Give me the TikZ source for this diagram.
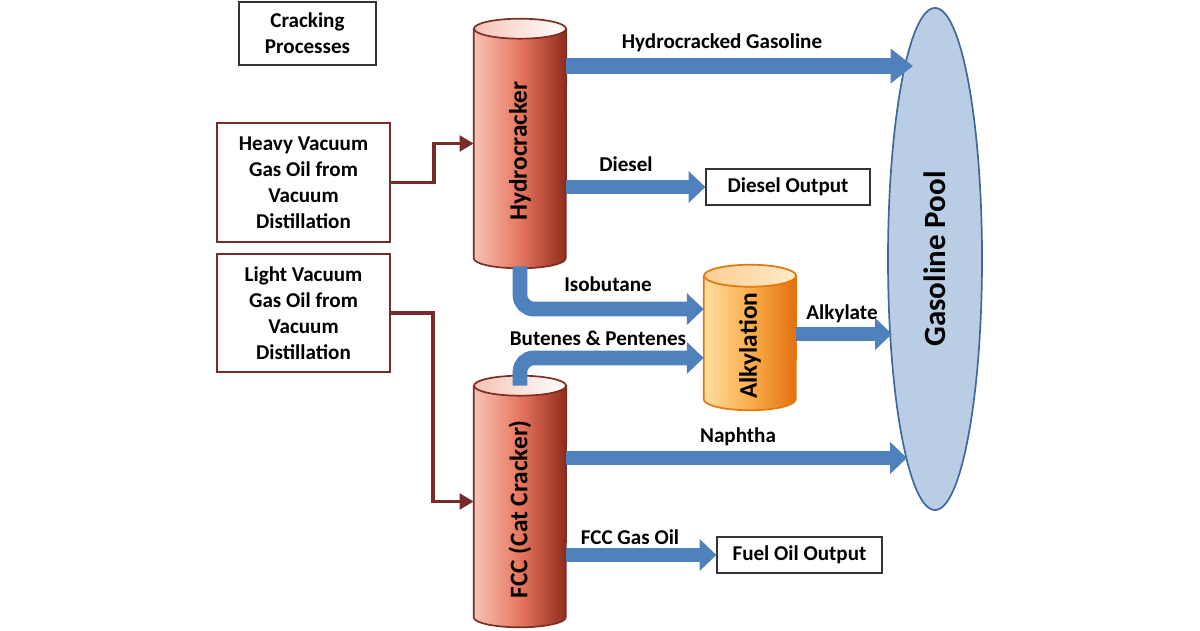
\documentclass[tikz,border=0pt]{standalone}
\usepackage{fontspec}
\setmainfont{Carlito}
\usepackage{tikz}
\usetikzlibrary{arrows.meta,shapes.geometric,backgrounds}

\definecolor{flowblue}{HTML}{4F81BD}
\definecolor{feedbrown}{HTML}{772C2A}
\definecolor{towerL}{HTML}{F5C3B6}
\definecolor{towerM}{HTML}{E8765E}
\definecolor{towerR}{HTML}{8F2B1D}
\definecolor{towerEdge}{HTML}{7A2E24}
\definecolor{alkyL}{HTML}{FFDDA0}
\definecolor{alkyM}{HTML}{FBAE4C}
\definecolor{alkyR}{HTML}{E2700D}
\definecolor{alkyEdge}{HTML}{E5760F}
\definecolor{poolfill}{HTML}{B9CDE5}
\definecolor{pooledge}{HTML}{41689A}

\tikzset{
  txt/.style={font=\bfseries\fontsize{15}{18.5}\selectfont, inner sep=0pt},
  outbox/.style={txt, draw=black!80, line width=0.8pt, align=center},
  feedbox/.style={txt, draw=feedbrown, line width=2pt, align=center, minimum width=4.325cm},
  tower/.style={inner sep=0pt, minimum width=2.3cm, font=\bfseries\fontsize{18}{22}\selectfont},
  towerbody/.style={draw=towerEdge, line width=1.2pt, left color=towerL, right color=towerR, middle color=towerM},
  towertop/.style={draw=towerEdge, line width=1.2pt, left color=towerL, right color=white},
  alkybody/.style={draw=alkyEdge, line width=1.2pt, left color=alkyL, right color=alkyR, middle color=alkyM},
  alkytop/.style={draw=alkyEdge, line width=1.2pt, left color=alkyM!60!white, right color=alkyL!60!white},
  flow/.style={draw=flowblue, line width=10.5pt, -{Triangle[length=12pt,width=22pt]}},
  feed/.style={draw=feedbrown, line width=2.8pt, -{Triangle[length=10pt,width=11pt]}},
}

\begin{document}
\begin{tikzpicture}[x=0.025cm,y=-0.025cm]
\useasboundingbox (0,0) rectangle (1200,630);

% Towers
\node[tower, minimum height=5.725cm] (hc) at (520,143.5) {\rotatebox{90}{Hydrocracker\hspace{0.38cm}}};
\node[tower, minimum height=5.775cm] (fcc) at (520,501.5) {\rotatebox{90}{FCC (Cat Cracker)\hspace{0.38cm}}};
\node[tower, minimum height=2.775cm] (alky) at (750,337.5) {\rotatebox{90}{Alkylation\hspace{0.42cm}}};
\begin{scope}[on background layer]
\path[towerbody] (hc.north west) -- (hc.south west) arc[start angle=180, end angle=0, x radius=46, y radius=10] -- (hc.north east) -- cycle;
\path[towertop] (hc.north) ellipse[x radius=46, y radius=10];
\path[towerbody] (fcc.north west) -- (fcc.south west) arc[start angle=180, end angle=0, x radius=46, y radius=10] -- (fcc.north east) -- cycle;
\path[towertop] (fcc.north) ellipse[x radius=46, y radius=10];
\path[alkybody] (alky.north west) -- (alky.south west) arc[start angle=180, end angle=0, x radius=46, y radius=11] -- (alky.north east) -- cycle;
\path[alkytop] (alky.north) ellipse[x radius=46, y radius=11];
\end{scope}

% Boxes
\node[outbox, minimum width=3.425cm, minimum height=1.575cm] (crack) at (307.5,33.5) {Cracking\\Processes};
\node[feedbox, minimum height=2.975cm] (hvgo) at (303.5,182.5) {Heavy Vacuum\\Gas Oil from\\Vacuum\\Distillation};
\node[feedbox, minimum height=2.95cm] (lvgo) at (303.5,313) {Light Vacuum\\Gas Oil from\\Vacuum\\Distillation};
\node[outbox, minimum width=4.1cm, minimum height=0.9cm] (diesel) at (788,187) {Diesel Output};
\node[outbox, minimum width=4.125cm, minimum height=0.9cm] (fuel) at (799.5,555) {Fuel Oil Output};
\node[ellipse, draw=pooledge, line width=1.2pt, fill=poolfill, minimum width=2.35cm, minimum height=12.55cm,
  inner sep=0pt, font=\bfseries\fontsize{22}{26}\selectfont] (pool) at (935,259) {\rotatebox{90}{Gasoline Pool}};

% Feeds
\draw[feed] (hvgo.east) -- ++(43,0) |- (hc.west);
\draw[feed] (lvgo.east) -- ++(42,0) |- (fcc.west);

% Product flows
\coordinate (hgTip) at (913,66);
\coordinate (alTip) at (892,334);
\coordinate (naTip) at (907,458);
\draw[flow, line width=12pt, -{Triangle[length=16pt,width=24pt]}] (hc.east |- hgTip) -- (hgTip);
\draw[flow] (hc.east |- diesel) -- (diesel.west);
\draw[flow, rounded corners=0.35cm] ([yshift=-0.2cm]hc.south) |- ([yshift=0.71cm]alky.west);
\draw[flow, rounded corners=0.35cm] (fcc.north) |- ([yshift=-0.51cm]alky.west);
\draw[flow] (alky.east |- alTip) -- (alTip);
\draw[flow] (fcc.east |- naTip) -- (naTip);
\draw[flow] (fcc.east |- fuel) -- (fuel.west);

% Labels
\node[txt] (lblHG) at (722,43) {Hydrocracked Gasoline};
\node[txt] (lblDiesel) at (626,164) {Diesel};
\node[txt] (lblIso) at (608,284) {Isobutane};
\node[txt] (lblBut) at (598,338) {Butenes \& Pentenes};
\node[txt] (lblAlk) at (842,314) {Alkylate};
\node[txt] (lblNaph) at (738,437) {Naphtha};
\node[txt] (lblFccGO) at (630,537) {FCC Gas Oil};
\end{tikzpicture}
\end{document}
